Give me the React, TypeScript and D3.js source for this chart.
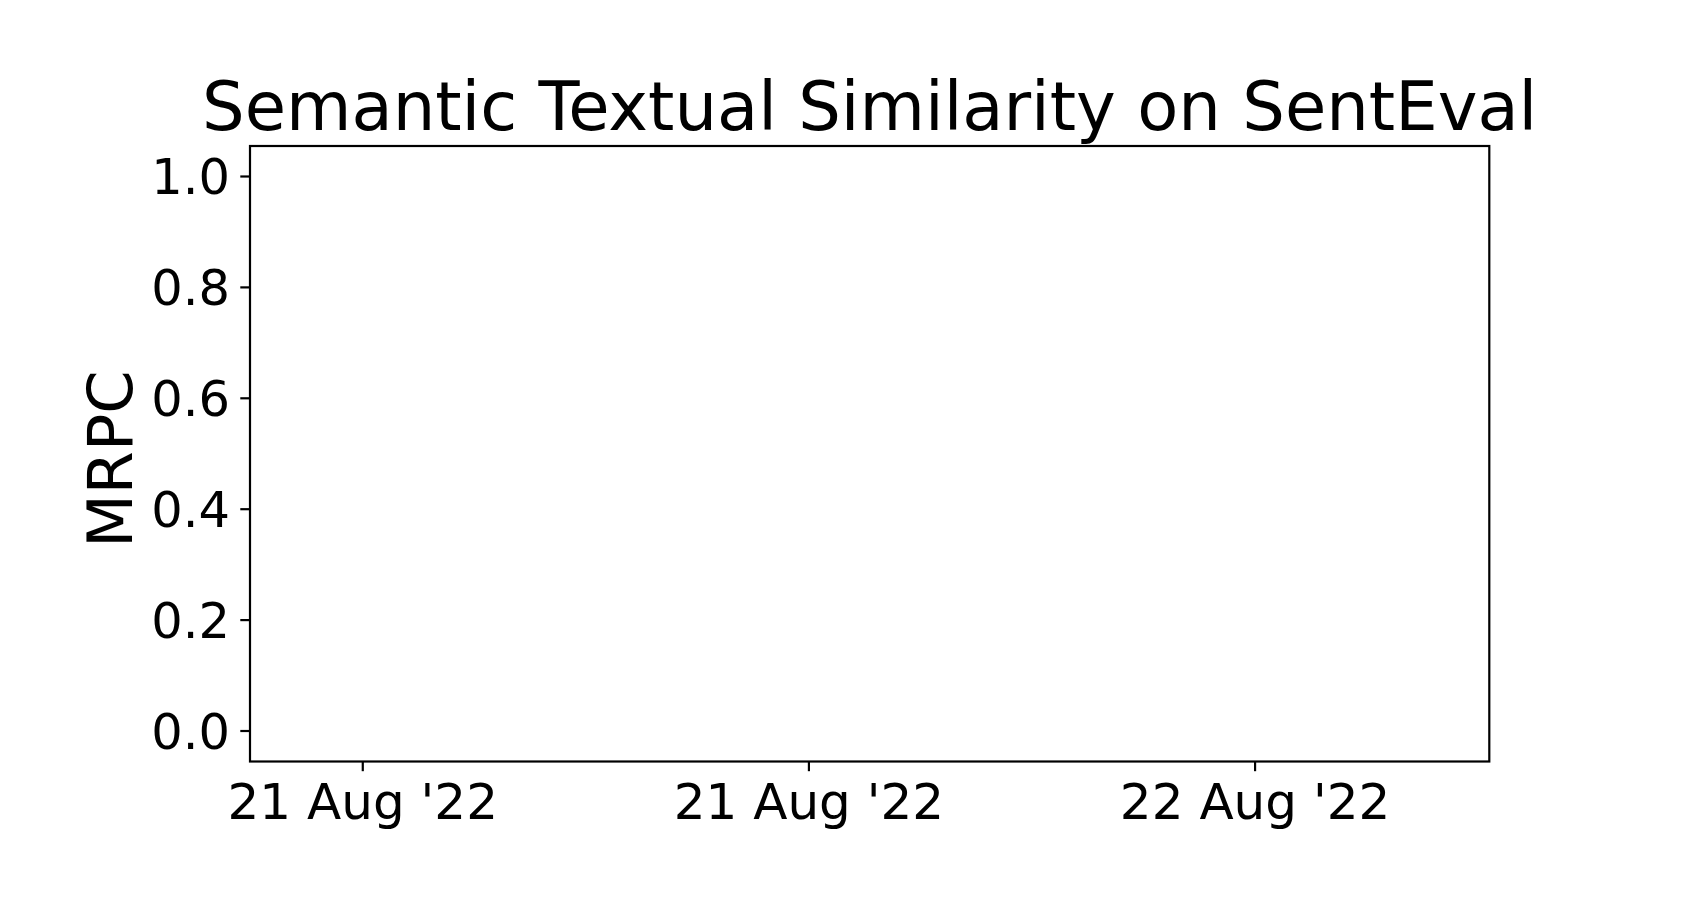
import React from 'react';
import * as d3 from 'd3';

// empty evaluation plot: no series, only the frame and the ticks
const X_DOMAIN = [new Date(2022, 7, 20, 20, 58), new Date(2022, 7, 22, 6, 18)];
const X_TICKS = [new Date(2022, 7, 21, 0, 0), new Date(2022, 7, 21, 12, 0), new Date(2022, 7, 22, 0, 0)];
const Y_DOMAIN = [-0.055, 1.055];
const Y_TICKS = [0, 0.2, 0.4, 0.6, 0.8, 1.0];
const TITLE = 'Semantic Textual Similarity on SentEval';
const Y_LABEL = 'MRPC';

const WIDTH = 1700;
const HEIGHT = 900;
const M = { left: 250, right: 1489.3, top: 146, bottom: 761.5 };
const FONT = "'DejaVu Sans', sans-serif";

export default function App() {
  const svgRef = React.useRef<SVGSVGElement>(null);

  React.useEffect(() => {
    const svg = d3.select(svgRef.current);
    svg.selectAll('*').remove();

    const x = d3.scaleTime().domain(X_DOMAIN).range([M.left, M.right]);
    const y = d3.scaleLinear().domain(Y_DOMAIN).range([M.bottom, M.top]);
    const fmt = d3.timeFormat("%d %b '%y");

    svg.append('rect')
      .attr('width', WIDTH)
      .attr('height', HEIGHT)
      .attr('fill', '#ffffff');

    // y ticks
    const yt = svg.append('g');
    for (const v of Y_TICKS) {
      const py = y(v);
      yt.append('line')
        .attr('x1', M.left - 9.7)
        .attr('x2', M.left)
        .attr('y1', py)
        .attr('y2', py)
        .attr('stroke', '#000')
        .attr('stroke-width', 2.2);
      yt.append('text')
        .attr('x', 230)
        .attr('y', py + 18)
        .attr('text-anchor', 'end')
        .attr('font-family', FONT)
        .attr('font-size', 49.5)
        .attr('fill', '#000')
        .text(v.toFixed(1));
    }

    // x ticks
    const xt = svg.append('g');
    for (const d of X_TICKS) {
      const px = x(d);
      xt.append('line')
        .attr('x1', px)
        .attr('x2', px)
        .attr('y1', M.bottom)
        .attr('y2', M.bottom + 9.7)
        .attr('stroke', '#000')
        .attr('stroke-width', 2.2);
      xt.append('text')
        .attr('x', px)
        .attr('y', 819.3)
        .attr('text-anchor', 'middle')
        .attr('font-family', FONT)
        .attr('font-size', 50)
        .attr('fill', '#000')
        .text(fmt(d));
    }

    // frame
    svg.append('rect')
      .attr('x', M.left)
      .attr('y', M.top)
      .attr('width', M.right - M.left)
      .attr('height', M.bottom - M.top)
      .attr('fill', 'none')
      .attr('stroke', '#000')
      .attr('stroke-width', 2.2);

    svg.append('text')
      .attr('x', (M.left + M.right) / 2)
      .attr('y', 130)
      .attr('text-anchor', 'middle')
      .attr('font-family', FONT)
      .attr('font-size', 67.2)
      .attr('fill', '#000')
      .text(TITLE);

    svg.append('text')
      .attr('transform', `translate(131.7, 459) rotate(-90)`)
      .attr('text-anchor', 'middle')
      .attr('font-family', FONT)
      .attr('font-size', 62)
      .attr('fill', '#000')
      .text(Y_LABEL);
  }, []);

  return (
    <svg
      ref={svgRef}
      width={WIDTH}
      height={HEIGHT}
      style={{ position: 'absolute', left: 0, top: 0, display: 'block' }}
    />
  );
}
